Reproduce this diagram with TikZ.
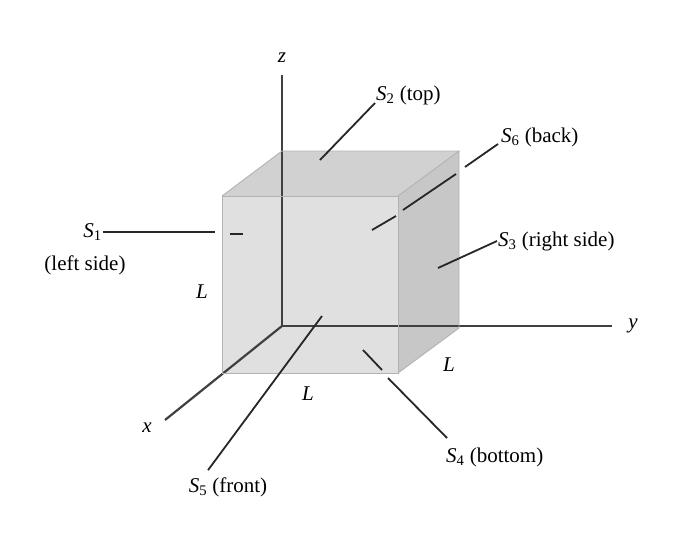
\documentclass[tikz,border=0pt]{standalone}
\usepackage{fontspec}
\setmainfont{Liberation Serif}
\begin{document}
\begin{tikzpicture}[x=1pt,y=-1pt,
  edge/.style={draw=black!30,line width=0.9pt},
  ax/.style={draw=black!75,line width=2.2pt},
  lead/.style={draw=black!85,line width=1.8pt},
  lbl/.style={font=\fontsize{21}{24}\selectfont,inner sep=1pt}]
\useasboundingbox (0,0) rectangle (686,550);
% faces
\fill[black!12] (222,196) rectangle (398,373);
\fill[black!18] (222,196) -- (282,151) -- (459,151) -- (398,196) -- cycle;
\fill[black!22] (398,196) -- (459,151) -- (459,328) -- (398,373) -- cycle;
% axes
\coordinate (o) at (282,326);
\coordinate (ze) at (282,75);
\coordinate (ye) at (612,326);
\coordinate (xe) at (165,420);
\draw[ax] (o) -- (ze);
\draw[ax] (o) -- (ye);
\draw[ax] (o) -- (xe);
% edges
\draw[edge] (222,196) rectangle (398,373);
\draw[edge] (222,196) -- (282,151) -- (459,151) -- (398,196);
\draw[edge] (459,151) -- (459,328) -- (398,373);
\node[lbl] at (282,58) {\textit{z}};
\node[lbl] at (633,326) {\textit{y}};
\node[lbl] at (147,428) {\textit{x}};
\node[lbl] at (202,292) {\textit{L}};
\node[lbl] at (308,394) {\textit{L}};
\node[lbl] at (449,365) {\textit{L}};
% labels
\node[lbl,anchor=west] (s2) at (375,95) {\textit{S}\textsubscript{2} (top)};
\node[lbl,anchor=west] (s6) at (500,137) {\textit{S}\textsubscript{6} (back)};
\node[lbl,anchor=west] (s3) at (497,241) {\textit{S}\textsubscript{3} (right side)};
\node[lbl,anchor=west] (s4) at (445,457) {\textit{S}\textsubscript{4} (bottom)};
\node[lbl] (s5) at (228,487) {\textit{S}\textsubscript{5} (front)};
\node[lbl,anchor=east] (s1) at (103,232) {\textit{S}\textsubscript{1}};
\node[lbl] at (85,265) {(left side)};
% leaders
\draw[lead] (s2.west) ++(0,8) coordinate (a2) (320,160) -- (a2);
\draw[lead] (s1.east) -- (215,232);
\draw[lead] (230,234) -- (243,234);
\draw[lead] (s6.west) ++(-2,7) coordinate (a6) (a6) -- (465,167);
\draw[lead] (456,174) -- (403,210);
\draw[lead] (396,216) -- (372,230);
\draw[lead] (s3.west) -- (438,268);
\draw[lead] (363,350) -- (382,370);
\draw[lead] (388,378) -- (447,438);
\draw[lead] (s5.north) ++(-20,-6) coordinate (a5) (a5) -- (322,316);
\end{tikzpicture}
\end{document}
